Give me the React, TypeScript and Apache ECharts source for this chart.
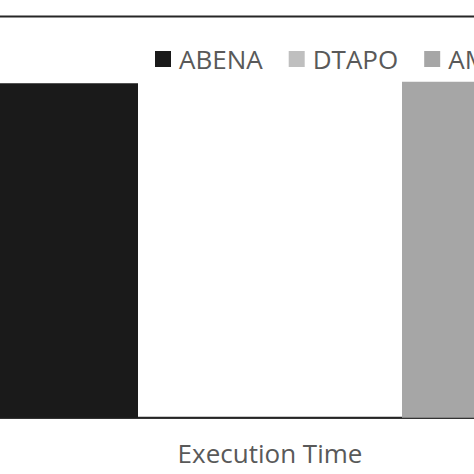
import React, { useEffect, useRef } from "react";
import * as echarts from "echarts";

// one category, three series; DTAPO shows no visible bar
const categories = ["Execution Time"];
const seriesNames = ["ABENA", "DTAPO", "AMOSA"];
const seriesValues = [[83.35], [0], [83.75]];
const seriesColors = ["#1a1a1a", "#bfbfbf", "#a6a6a6"];

// the reference is a crop of a wider chart: draw it wide and shift it left
const CHART_W = 792;
const SHIFT_X = -126;

const App: React.FC = () => {
  const chartRef = useRef<HTMLDivElement | null>(null);

  useEffect(() => {
    if (!chartRef.current) return;
    const chart = echarts.init(chartRef.current, undefined, { renderer: "svg" });

    const option = {
      animation: false,
      backgroundColor: "#ffffff",
      textStyle: { fontFamily: "'Open Sans', sans-serif" },
      legend: {
        data: seriesNames,
        left: 155 - SHIFT_X,
        top: 46,
        padding: 0,
        itemWidth: 16,
        itemHeight: 16,
        itemGap: 26,
        icon: "rect",
        textStyle: {
          fontSize: 26,
          color: "#595959",
          padding: [0, 0, 0, 3],
        },
      },
      grid: {
        show: true,
        left: 0,
        right: 0,
        top: 16.5,
        bottom: 56.3,
        borderColor: "#262626",
        borderWidth: 2,
        backgroundColor: "transparent",
      },
      xAxis: {
        type: "category",
        data: categories,
        axisLine: { show: true, lineStyle: { color: "#262626", width: 1.5 } },
        axisTick: { show: false },
        axisLabel: {
          fontSize: 26,
          color: "#595959",
          margin: 22,
        },
      },
      yAxis: {
        type: "value",
        min: 0,
        max: 100,
        show: false,
        splitLine: { show: false },
      },
      series: seriesNames.map((name, i) => ({
        name,
        type: "bar",
        data: seriesValues[i],
        barGap: "0%",
        barCategoryGap: "0%",
        itemStyle: { color: seriesColors[i] },
      })),
    };

    chart.setOption(option);
    const handleResize = () => chart.resize();
    window.addEventListener("resize", handleResize);
    return () => {
      window.removeEventListener("resize", handleResize);
      chart.dispose();
    };
  }, []);

  return (
    <div
      style={{
        position: "fixed",
        left: 0,
        top: 0,
        width: 474,
        height: 474,
        overflow: "hidden",
        background: "#ffffff",
      }}
    >
      <div
        ref={chartRef}
        style={{ position: "absolute", left: SHIFT_X, top: 0, width: CHART_W, height: 474 }}
      />
    </div>
  );
};

export default App;
